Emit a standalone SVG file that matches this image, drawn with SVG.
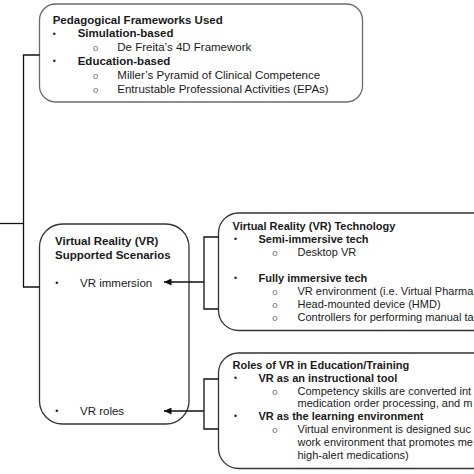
<svg xmlns="http://www.w3.org/2000/svg" width="474" height="474" viewBox="0 0 474 474">
<defs>
<marker id="arr" markerUnits="userSpaceOnUse" markerWidth="8" markerHeight="7" refX="7.5" refY="3.5" orient="auto">
<path d="M0,0 L7.5,3.5 L0,7 z" fill="#111"/>
</marker>
<style>
.box{fill:#fff;stroke:#333;stroke-width:1.3}
.boxl{fill:#fff;stroke:#6a6a6a;stroke-width:1.3}
.con{fill:none;stroke:#111;stroke-width:1.3}
text{font-family:"Liberation Sans",Arial,sans-serif;fill:#1a1a1a}
.a{font-size:11.5px}
.b{font-size:11px}
.bd{font-weight:bold}
.u{font-size:8.5px}
.o{font-family:"Liberation Mono","Courier New",monospace;fill:#666;font-size:9.5px}
</style>
</defs>
<rect width="474" height="474" fill="#fff"/>

<g id="node-pedagogical">
<rect class="boxl" x="39.5" y="4" width="323" height="98" rx="16" ry="16"/>
<text class="a bd" x="52.7" y="23.5">Pedagogical Frameworks Used</text>
<text class="u" x="52.8" y="36.5">•</text>
<text class="a bd" x="77.7" y="37.3">Simulation-based</text>
<text class="o" x="92.8" y="51.1">o</text>
<text class="a" x="117.3" y="51.1">De Freita’s 4D Framework</text>
<text class="u" x="52.8" y="64.1">•</text>
<text class="a bd" x="77.7" y="64.9">Education-based</text>
<text class="o" x="92.8" y="78.7">o</text>
<text class="a" x="117.3" y="78.7">Miller’s Pyramid of Clinical Competence</text>
<text class="o" x="92.8" y="92.5">o</text>
<text class="a" x="117.3" y="92.5">Entrustable Professional Activities (EPAs)</text>
</g>

<g id="node-scenarios">
<rect class="box" x="39.5" y="224" width="149.5" height="200" rx="23" ry="23"/>
<text class="a bd" x="55" y="245">Virtual Reality (VR)</text>
<text class="a bd" x="55" y="259">Supported Scenarios</text>
<text class="u" x="55.2" y="286.2">•</text>
<text class="a" x="80" y="287">VR immersion</text>
<text class="u" x="55.2" y="414.2">•</text>
<text class="a" x="80" y="415">VR roles</text>
</g>

<g id="node-technology">
<rect class="box" x="218.5" y="213" width="290" height="117.5" rx="20" ry="20"/>
<text class="b bd" x="232.5" y="230">Virtual Reality (VR) Technology</text>
<text class="u" x="234" y="242.2">•</text>
<text class="b bd" x="258.5" y="243">Semi-immersive tech</text>
<text class="o" x="272.1" y="256">o</text>
<text class="b" x="297.5" y="256">Desktop VR</text>
<text class="u" x="234" y="281.2">•</text>
<text class="b bd" x="258.5" y="282">Fully immersive tech</text>
<text class="o" x="272.1" y="295">o</text>
<text class="b" x="297.5" y="295">VR environment (i.e. Virtual Pharma</text>
<text class="o" x="272.1" y="308">o</text>
<text class="b" x="297.5" y="308">Head-mounted device (HMD)</text>
<text class="o" x="272.1" y="321">o</text>
<text class="b" x="297.5" y="321">Controllers for performing manual ta</text>
</g>

<g id="node-roles">
<rect class="box" x="218.5" y="353" width="290" height="115.5" rx="20" ry="20"/>
<text class="b bd" x="232.5" y="368.5">Roles of VR in Education/Training</text>
<text class="u" x="234" y="380.7">•</text>
<text class="b bd" x="258.5" y="381.5">VR as an instructional tool</text>
<text class="o" x="272.1" y="394.5">o</text>
<text class="b" x="297.5" y="394.5">Competency skills are converted int</text>
<text class="b" x="297.5" y="407">medication order processing, and m</text>
<text class="u" x="234" y="419.2">•</text>
<text class="b bd" x="258.5" y="420">VR as the learning environment</text>
<text class="o" x="272.1" y="433">o</text>
<text class="b" x="297.5" y="433">Virtual environment is designed suc</text>
<text class="b" x="297.5" y="446">work environment that promotes me</text>
<text class="b" x="297.5" y="459">high-alert medications)</text>
</g>

<g id="connectors">
<polyline class="con" points="39.5,55 23.5,55 23.5,287 39.5,287"/>
<line class="con" x1="0" y1="223.5" x2="23.5" y2="223.5"/>
<polyline class="con" points="218.5,237 204,237 204,309 218.5,309"/>
<line class="con" x1="204" y1="282" x2="164" y2="282" marker-end="url(#arr)"/>
<polyline class="con" points="218.5,379 204,379 204,429 218.5,429"/>
<line class="con" x1="204" y1="411" x2="164" y2="411" marker-end="url(#arr)"/>
</g>
</svg>
